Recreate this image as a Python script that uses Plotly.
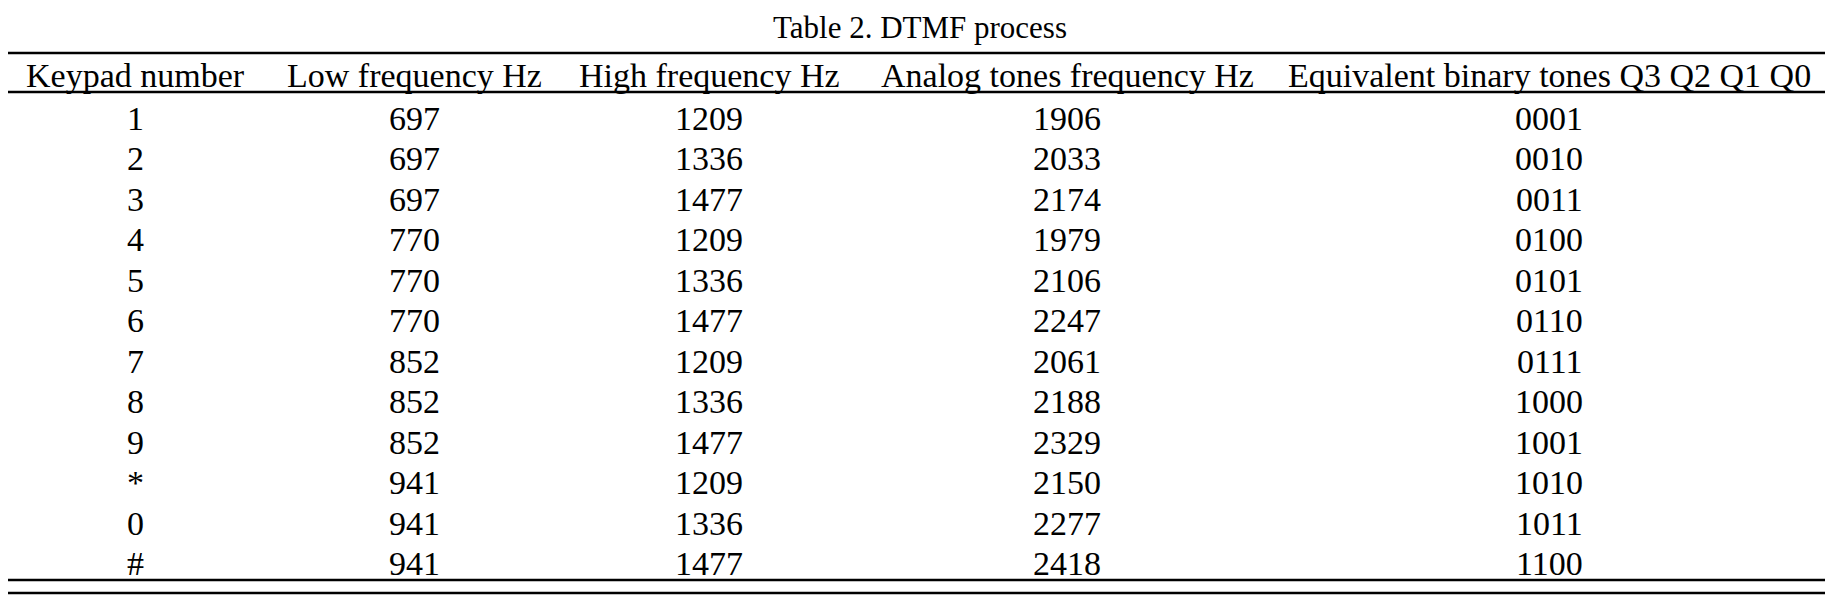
import plotly.graph_objects as go

W, H = 1833, 606
title = "Table 2. DTMF process"
headers = ["Keypad number", "Low frequency Hz", "High frequency Hz",
           "Analog tones frequency Hz", "Equivalent binary tones Q3 Q2 Q1 Q0"]
keys = ["1", "2", "3", "4", "5", "6", "7", "8", "9", "*", "0", "#"]
low = [697, 697, 697, 770, 770, 770, 852, 852, 852, 941, 941, 941]
high = [1209, 1336, 1477, 1209, 1336, 1477, 1209, 1336, 1477, 1209, 1336, 1477]
analog = [1906, 2033, 2174, 1979, 2106, 2247, 2061, 2188, 2329, 2150, 2277, 2418]
binary = ["0001", "0010", "0011", "0100", "0101", "0110", "0111", "1000",
          "1001", "1010", "1011", "1100"]
footer = "Wireless control system for smart home based on dual tone multi frequency technology (Iqbal, Shetti, Iqbal)"

col_x = [127, 406, 701, 1059, 1541]
FONT = "Liberation Serif"

fig = go.Figure()
fig.update_layout(width=W, height=H, margin=dict(l=0, r=0, t=0, b=0),
                  paper_bgcolor="white", plot_bgcolor="white", showlegend=False,
                  xaxis=dict(range=[0, W], visible=False, fixedrange=True),
                  yaxis=dict(range=[H, 0], visible=False, fixedrange=True))

def txt(x, y, s, size=34):
    fig.add_annotation(x=x, y=y, xref="x", yref="y", text=s,
                       showarrow=False, font=dict(family=FONT, size=size, color="black"),
                       xanchor="center", yanchor="middle")

txt(912, 19, title, size=31)
for x, h in zip(col_x, headers):
    txt(x, 67, h)
cols = [keys, low, high, analog, binary]
for i in range(len(keys)):
    y = 110 + i * 40.5
    for x, c in zip(col_x, cols):
        txt(x, y, str(c[i]))

def hline(y, x2=1820, w=2.5):
    fig.add_shape(type="line", x0=0, x1=x2, y0=y, y1=y,
                  xref="x", yref="y", line=dict(color="black", width=w))

hline(45)
hline(84)
hline(572)
hline(585, x2=1833)
fig.add_annotation(x=35, y=618, xref="x", yref="y", text=f"<i>{footer}</i>", showarrow=False,
                   font=dict(family=FONT, size=38, color="black"), xanchor="left", yanchor="middle")

fig.write_html("out.html")
